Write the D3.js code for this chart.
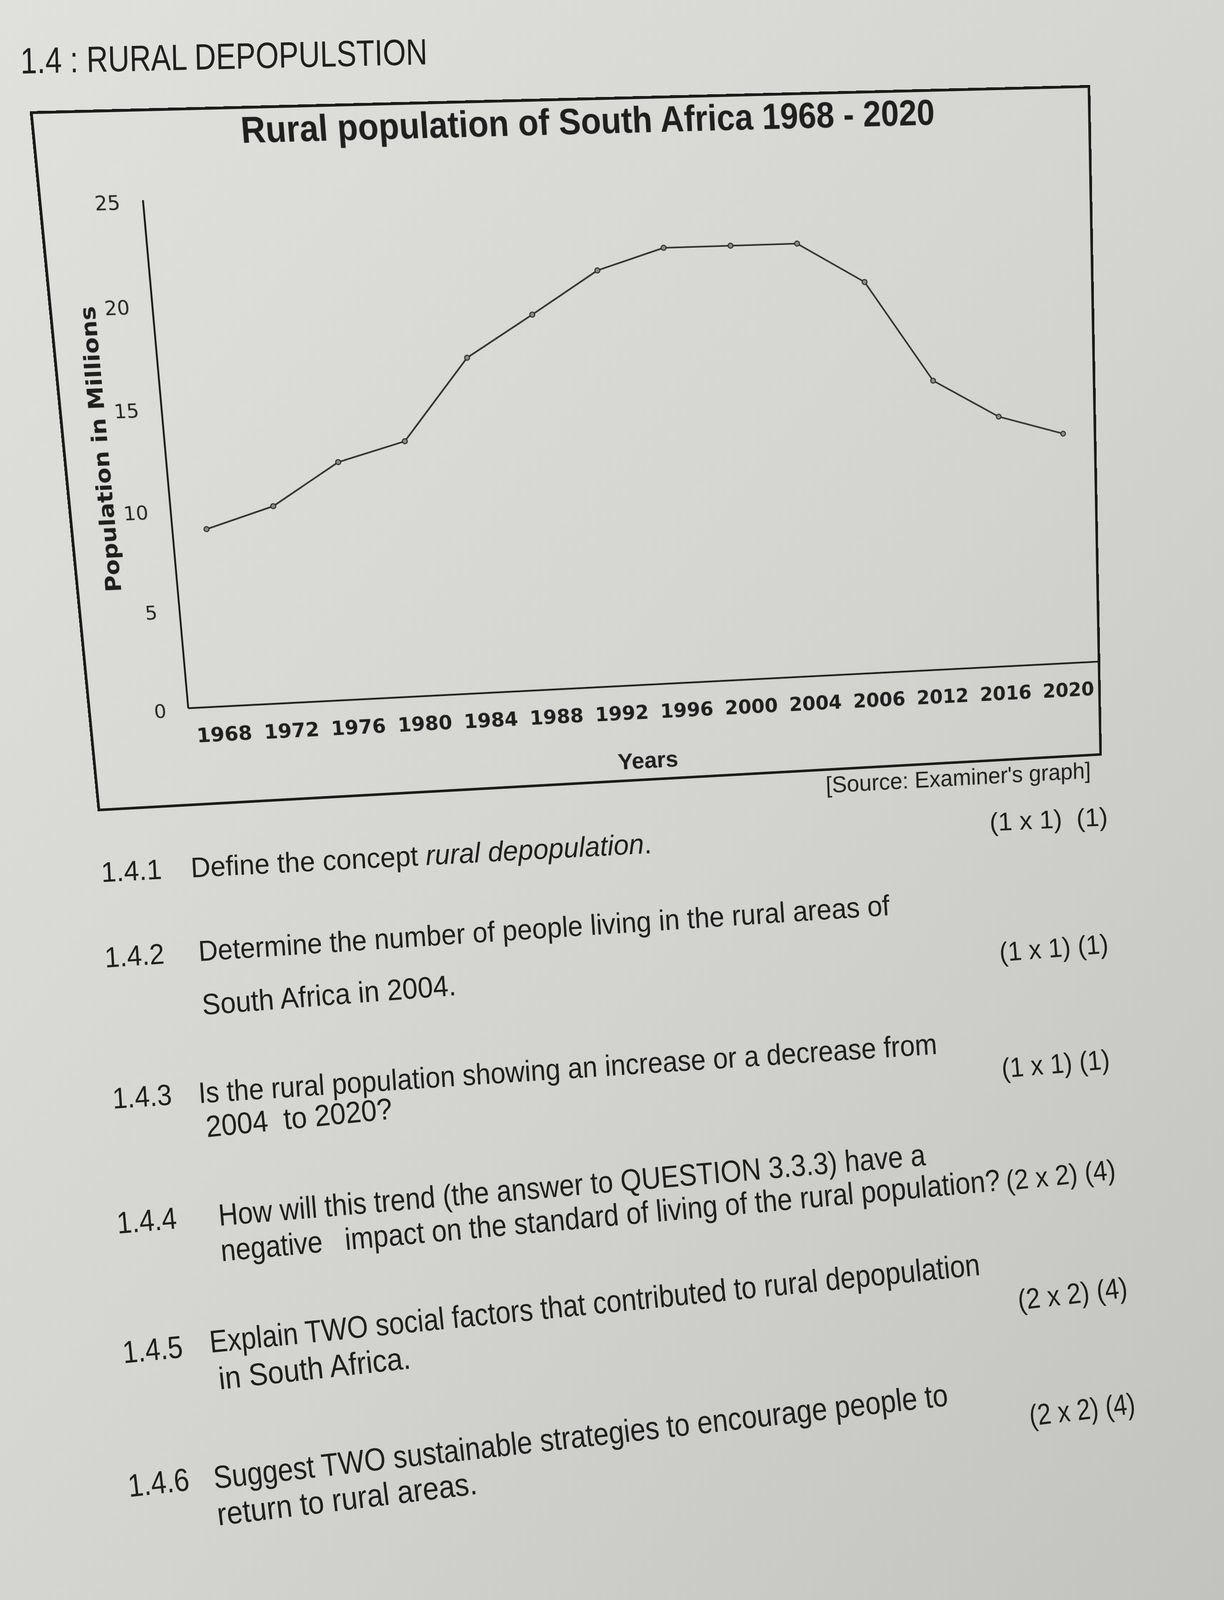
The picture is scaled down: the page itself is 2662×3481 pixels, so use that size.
<!DOCTYPE html>
<html>
<head>
<meta charset="utf-8">
<title>Rural population of South Africa 1968 - 2020</title>
<script src="https://d3js.org/d3.v7.min.js"></script>
<style>
  html, body { margin: 0; padding: 0; }
  body { width: 2662px; height: 3481px; position: relative; overflow: hidden; background: #d4d4d1; }
  #page, #plane { position: absolute; left: 0; top: 0; }
  #plane { transform-origin: 0 0; }
  text { white-space: pre; }
</style>
</head>
<body>
<svg id="page" width="2662" height="3481"></svg>
<div id="plane"></div>
<script>
// ---- data ----
const years = ['1968', '1972', '1976', '1980', '1984', '1988', '1992', '1996', '2000', '2004', '2006', '2012', '2016', '2020'];
const population = [8.95, 9.95, 12.0, 12.9, 16.9, 18.9, 20.95, 21.95, 21.95, 21.95, 19.95, 14.9, 12.95, 11.95];
const yTicks = [0, 5, 10, 15, 20, 25];

const heading = '1.4 : RURAL DEPOPULSTION';
const chartTitle = 'Rural population of South Africa 1968 - 2020';
const yTitle = 'Population in Millions';
const xTitle = 'Years';
const sourceNote = "[Source: Examiner's graph]";

const questionNumbers = ['1.4.1', '1.4.2', '1.4.3', '1.4.4', '1.4.5', '1.4.6'];
const questionLines = [
  [['Define the concept ', false], ['rural depopulation', true], ['.', false]],
  [['Determine the number of people living in the rural areas of', false]],
  [['South Africa in 2004.', false]],
  [['Is the rural population showing an increase or a decrease from', false]],
  [['2004  to 2020?', false]],
  [['How will this trend (the answer to QUESTION 3.3.3) have a', false]],
  [['negative   impact on the standard of living of the rural population?', false]],
  [['Explain TWO social factors that contributed to rural depopulation', false]],
  [['in South Africa.', false]],
  [['Suggest TWO sustainable strategies to encourage people to', false]],
  [['return to rural areas.', false]]
];
const firstLineOf = [0, 1, 3, 5, 7, 9];
const markLabels = ['(1 x 1)  (1)', '(1 x 1) (1)', '(1 x 1) (1)', '(2 x 2) (4)', '(2 x 2) (4)', '(2 x 2) (4)'];

// ---- layout of the photographed page (baseline start, baseline end, cap height) ----
const headingLayout = [45, 160, 930, 140, 57];
const lineLayout = [
  [416, 1909, 1418, 1856, 44],
  [433, 2091, 1936, 1991, 45],
  [441, 2208, 993, 2165, 46],
  [433, 2400, 2039, 2293, 46],
  [450, 2474, 855, 2434, 47],
  [477, 2667, 2014, 2535, 48],
  [482, 2744, 2177, 2590, 48],
  [458, 2943, 2133, 2774, 49],
  [478, 3023, 895, 2977, 49],
  [467, 3239, 2064, 3058, 50],
  [475, 3319, 1040, 3250, 50]
];
const numberLayout = [[221, 1919], [229, 2105], [246, 2412], [256, 2684], [269, 2966], [281, 3257]];
const markLayout = [
  [2153, 1808, 2410, 1796, 40],
  [2175, 2092, 2412, 2073, 42],
  [2180, 2345, 2415, 2325, 43],
  [2190, 2590, 2428, 2565, 44],
  [2216, 2850, 2454, 2822, 45],
  [2241, 3102, 2471, 3075, 46]
];

const ink = '#1f1f1f';

// ---- page (paper + question text) ----
const page = d3.select('#page');
const grad = page.append('defs').append('linearGradient')
  .attr('id', 'paper').attr('x1', 0).attr('y1', 0).attr('x2', 1).attr('y2', 1);
grad.append('stop').attr('offset', '0%').attr('stop-color', '#e0e0dd');
grad.append('stop').attr('offset', '55%').attr('stop-color', '#d3d3d0');
grad.append('stop').attr('offset', '100%').attr('stop-color', '#c2c2bf');
page.append('rect').attr('width', 2662).attr('height', 3481).attr('fill', 'url(#paper)');

function placeLine(g, parts, lay, family, weight) {
  const [x0, y0, x1, y1, cap] = lay;
  const ang = Math.atan2(y1 - y0, x1 - x0) * 180 / Math.PI;
  const dist = Math.hypot(x1 - x0, y1 - y0);
  const fs = cap / 0.716;
  const t = g.append('text')
    .style('font-family', family)
    .style('font-weight', weight)
    .style('font-size', fs + 'px')
    .attr('fill', ink);
  parts.forEach(([s, it]) => t.append('tspan').text(s).style('font-style', it ? 'italic' : 'normal'));
  const sx = dist / t.node().getComputedTextLength();
  t.attr('transform', `translate(${x0},${y0}) rotate(${ang}) scale(${sx},1)`);
  return { ang, sx, fs };
}

const qg = page.append('g');
placeLine(qg, [[heading, false]], headingLayout, '"Liberation Sans", Arial, sans-serif', 400);

const lineFits = questionLines.map((parts, i) =>
  placeLine(qg, parts, lineLayout[i], '"Liberation Sans", Arial, sans-serif', 400));

questionNumbers.forEach((num, q) => {
  const f = lineFits[firstLineOf[q]];
  const [nx, ny] = numberLayout[q];
  qg.append('text')
    .style('font-family', '"Liberation Sans", Arial, sans-serif')
    .style('font-size', f.fs + 'px')
    .attr('fill', ink)
    .attr('transform', `translate(${nx},${ny}) rotate(${f.ang}) scale(${f.sx},1)`)
    .text(num);
});

markLabels.forEach((m, i) => placeLine(qg, [[m, false]], markLayout[i], '"Liberation Sans", Arial, sans-serif', 400));

// ---- chart plane: drawn flat, then projected onto the photographed box ----
const W = 2300, H = 1520;
const flatCorners = [[0, 0], [W, 0], [W, H], [0, H]];
const boxCorners = [[68, 245], [2368, 188], [2393, 1641], [215, 1762]];

function solve(A, b) {
  const n = b.length;
  const M = A.map((row, i) => [...row, b[i]]);
  for (let c = 0; c < n; c++) {
    let p = c;
    for (let r = c + 1; r < n; r++) if (Math.abs(M[r][c]) > Math.abs(M[p][c])) p = r;
    [M[c], M[p]] = [M[p], M[c]];
    for (let r = 0; r < n; r++) {
      if (r === c) continue;
      const f = M[r][c] / M[c][c];
      for (let k = c; k <= n; k++) M[r][k] -= f * M[c][k];
    }
  }
  return M.map((row, i) => row[n] / row[i]);
}

function homography(src, dst) {
  const A = [], b = [];
  for (let i = 0; i < 4; i++) {
    const [x, y] = src[i], [X, Y] = dst[i];
    A.push([x, y, 1, 0, 0, 0, -x * X, -y * X]); b.push(X);
    A.push([0, 0, 0, x, y, 1, -x * Y, -y * Y]); b.push(Y);
  }
  return [...solve(A, b), 1];
}

const apply = (h, [x, y]) => {
  const w = h[6] * x + h[7] * y + h[8];
  return [(h[0] * x + h[1] * y + h[2]) / w, (h[3] * x + h[4] * y + h[5]) / w];
};

const Hm = homography(flatCorners, boxCorners);
const Hi = homography(boxCorners, flatCorners);
const toFlat = p => apply(Hi, p);

d3.select('#plane')
  .style('width', W + 'px')
  .style('height', '1640px')
  .style('transform', `matrix3d(${Hm[0]},${Hm[3]},0,${Hm[6]},${Hm[1]},${Hm[4]},0,${Hm[7]},0,0,1,0,${Hm[2]},${Hm[5]},0,${Hm[8]})`);

const svg = d3.select('#plane').append('svg')
  .attr('width', W).attr('height', 1640)
  .style('overflow', 'visible');

svg.append('rect')
  .attr('x', 0).attr('y', 0).attr('width', W).attr('height', H)
  .attr('fill', 'none').attr('stroke', '#1a1a1a').attr('stroke-width', 6);

// axis anchors
const origin = toFlat([412, 1540]);
const axisTop = toFlat([307, 435]);
const axisX = (origin[0] + axisTop[0]) / 2;

const x = d3.scalePoint().domain(years).range([axisX, W]).padding(0.5);
const y = d3.scaleLinear().domain([0, 25]).range([origin[1], axisTop[1]]);

const yAxis = svg.append('g')
  .attr('transform', `translate(${axisX},0)`)
  .call(d3.axisLeft(y).tickValues(yTicks).tickSize(0).tickPadding(48).tickFormat(d3.format('d')));
yAxis.select('.domain').attr('stroke', '#1a1a1a').attr('stroke-width', 4);
yAxis.selectAll('text')
  .attr('dy', '0.45em')
  .style('font-family', '"DejaVu Sans", Verdana, sans-serif')
  .style('font-size', '42px')
  .attr('fill', '#262626');

const xLabelBase = toFlat([473, 1613])[1];
const xAxis = svg.append('g')
  .attr('transform', `translate(0,${origin[1]})`)
  .call(d3.axisBottom(x).tickSize(0));
xAxis.select('.domain').attr('stroke', '#1a1a1a').attr('stroke-width', 4);
xAxis.selectAll('text')
  .attr('y', xLabelBase - origin[1]).attr('dy', null)
  .style('font-family', '"DejaVu Sans", Verdana, sans-serif')
  .style('font-weight', 'bold')
  .style('font-size', '44px')
  .attr('fill', '#1f1f1f');

const pts = years.map((yr, i) => ({ year: yr, value: population[i] }));

svg.append('path')
  .datum(pts)
  .attr('fill', 'none')
  .attr('stroke', '#2e2e2e')
  .attr('stroke-width', 3.6)
  .attr('d', d3.line().x(d => x(d.year)).y(d => y(d.value)));

svg.selectAll('circle.pt')
  .data(pts)
  .enter()
  .append('circle')
  .attr('class', 'pt')
  .attr('cx', d => x(d.year))
  .attr('cy', d => y(d.value))
  .attr('r', 5.5)
  .attr('fill', '#8a8a8a')
  .attr('stroke', '#262626')
  .attr('stroke-width', 2.2);

// title, fitted between its photographed ends
function fitFlat(parent, str, p0, p1, cap, family, weight) {
  const a = toFlat(p0), b = toFlat(p1);
  const t = parent.append('text')
    .style('font-family', family)
    .style('font-weight', weight)
    .style('font-size', (cap / 0.716) + 'px')
    .attr('fill', ink)
    .text(str);
  const sx = (b[0] - a[0]) / t.node().getComputedTextLength();
  t.attr('transform', `translate(${a[0]},${(a[1] + b[1]) / 2}) scale(${sx},1)`);
}

fitFlat(svg, chartTitle, [526, 310], [2033, 272], 56, '"Liberation Sans", Arial, sans-serif', 'bold');
fitFlat(svg, sourceNote, [1796, 1720], [2372, 1697], 39, '"Liberation Sans", Arial, sans-serif', 400);

const yearsPos = toFlat([1410, 1671]);
svg.append('text')
  .attr('x', yearsPos[0]).attr('y', yearsPos[1])
  .attr('text-anchor', 'middle')
  .style('font-family', '"Liberation Sans", Arial, sans-serif')
  .style('font-weight', 'bold')
  .style('font-size', '52px')
  .attr('fill', ink)
  .text(xTitle);

const yt0 = toFlat([215, 666]), yt1 = toFlat([231, 1288]);
const yTitleEl = svg.append('text')
  .attr('text-anchor', 'middle')
  .style('font-family', '"DejaVu Sans", Verdana, sans-serif')
  .style('font-weight', 'bold')
  .style('font-size', '47px')
  .attr('fill', ink)
  .text(yTitle);
const ySx = Math.hypot(yt1[0] - yt0[0], yt1[1] - yt0[1]) / yTitleEl.node().getComputedTextLength();
const ycx = (yt0[0] + yt1[0]) / 2 + 12, ycy = (yt0[1] + yt1[1]) / 2;
yTitleEl.attr('transform', `translate(${ycx},${ycy}) rotate(-90) scale(${ySx},1)`);
</script>
</body>
</html>
